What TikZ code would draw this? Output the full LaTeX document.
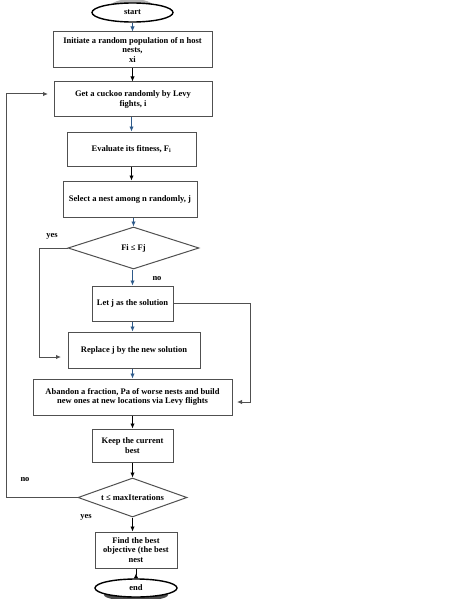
\documentclass[tikz,border=0pt]{standalone}
\usepackage{fontspec}
\setmainfont{Liberation Serif}
\usetikzlibrary{shapes.geometric,arrows.meta,calc}
\definecolor{flowblue}{HTML}{2E5A8A}
\definecolor{boxline}{HTML}{505050}
\tikzset{
  x=1pt,y=-1pt,
  every node/.style={font=\bfseries\fontsize{8.5}{9.2}\selectfont},
  box/.style={draw=boxline,line width=1pt,rectangle,align=center,fill=white,inner sep=1pt},
  dia/.style={draw=boxline,line width=1pt,diamond,aspect=3,align=center,inner sep=0pt,fill=white},
  term/.style={draw=black,line width=1.4pt,ellipse,fill=white,inner sep=0pt},
  blk/.style={draw=black,line width=0.9pt,-{Latex[length=5pt,width=4.5pt]}},
  blu/.style={draw=flowblue,line width=0.9pt,-{Latex[length=5pt,width=4.5pt]}},
  loop/.style={draw=boxline,line width=1pt,-{Latex[length=5pt,width=4.5pt]}},
  lbl/.style={inner sep=0pt}
}
\begin{document}
\begin{tikzpicture}
\useasboundingbox (0,0) rectangle (474,599);
\fill[white] (0,0) rectangle (474,599);
% shadows
\fill[gray!60] (132,7) ellipse (22 and 8);
\fill[black!70] (136,595) ellipse (32 and 6);
% terminals
\node[term,minimum width=81,minimum height=19] (start) at (132.5,12.5) {start};
\node[term,minimum width=82,minimum height=18] (end) at (136,588) {end};
% boxes
\node[box,minimum width=159,minimum height=36] (b1) at (132.5,50) {Initiate a random population of n host\\nests,\\xi};
\node[box,minimum width=158,minimum height=35] (b2) at (133,99.5) {Get a cuckoo randomly by Levy\\fights, i};
\node[box,minimum width=129,minimum height=34] (b3) at (131.5,149) {Evaluate its fitness, F\textsubscript{i}};
\node[box,minimum width=134,minimum height=36] (b4) at (130,199) {Select a nest among n randomly, j};
\node[dia,minimum width=131,minimum height=42] (d1) at (133.5,248) {Fi ≤ Fj};
\node[box,minimum width=81,minimum height=35] (b6) at (132.5,303.5) {Let j as the solution};
\node[box,minimum width=132,minimum height=36] (b5) at (134,350) {Replace j by the new solution};
\node[box,minimum width=199,minimum height=36] (b7) at (132.5,397) {Abandon a fraction, Pa of worse nests and build\\new ones at new locations via Levy flights};
\node[box,minimum width=81,minimum height=33] (b8) at (132.5,445.5) {Keep the current\\best};
\node[dia,minimum width=109,minimum height=39] (d2) at (132.5,497.5) {t ≤ maxIterations};
\node[box,minimum width=82,minimum height=36] (b9) at (136,550) {Find the best\\objective (the best\\nest};
% labels
\node[lbl] (yes1) at (52,236) {yes};
\node[lbl] (no1) at (157,279) {no};
\node[lbl] (no2) at (25,480) {no};
\node[lbl] (yes2) at (86,517) {yes};
% vertical arrows
\draw[blu] (start.south) -- (start.south |- b1.north);
\draw[blk] (b1.south) -- (b1.south |- b2.north);
\draw[blu] (b3.north |- b2.south) -- (b3.north);
\draw[blk] (b3.south) -- (b3.south |- b4.north);
\draw[blu] (d1.north |- b4.south) -- (d1.north);
\draw[blu] (b6.north |- d1.south) -- (b6.north);
\draw[blu] (b6.south) -- (b6.south |- b5.north);
\draw[blu] (b7.north |- b5.south) -- (b7.north);
\draw[blk] (b7.south) -- (b7.south |- b8.north);
\draw[blk] (b8.south) -- (b8.south |- d2.north);
\draw[blk] (d2.south) -- (d2.south |- b9.north);
\draw[line width=0.9pt,-{Latex[length=5pt,width=4.5pt,reversed]}] (b9.south) -- (b9.south |- end.north);
% loops
\coordinate (yc) at (39,357);
\coordinate (yt) at (61,357);
\draw[loop] (d1.west) -| (yc) -- (yt);
\coordinate (rc) at (250,402);
\coordinate (rt) at (237,402);
\draw[loop] (b6.east) -| (rc) -- (rt);
\coordinate (nc) at (6,94);
\coordinate (nt) at (48,94);
\draw[loop] (d2.west) -| (nc) -- (nt);
\end{tikzpicture}
\end{document}
